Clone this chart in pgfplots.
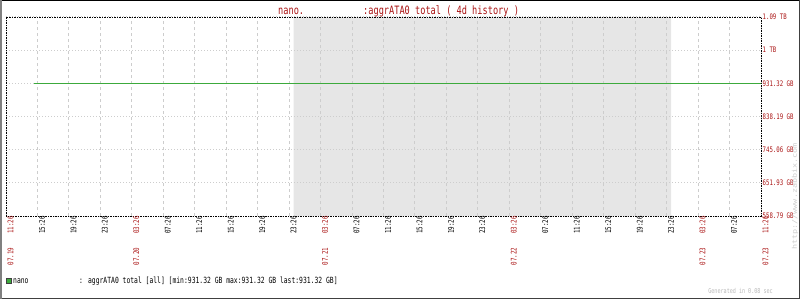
\documentclass[border=0pt]{standalone}
\usepackage{pgfplots}
\pgfplotsset{compat=1.18}
\usepackage{fontspec}
\setmainfont{DejaVu Sans Mono}
\newfontfamily\pixfont[FakeStretch=0.75]{DejaVu Sans Mono}
\newfontfamily\widefont[FakeStretch=1.3]{DejaVu Sans Mono}
\definecolor{zred}{RGB}{170,20,20}
\definecolor{zgreen}{RGB}{60,170,60}
\definecolor{zshade}{RGB}{230,230,230}
\definecolor{zgrid}{RGB}{205,205,205}
\newcommand{\rl}[2]{\textcolor{zred}{#1\hspace{14bp}#2}}
\begin{document}
\begin{tikzpicture}
\begin{axis}[
  set layers,
  scale only axis,
  width=755bp, height=199bp,
  at={(6bp,-216bp)}, anchor=south west,
  xmin=0, xmax=96,
  ymin=558.79, ymax=1117.58,
  xtick={0,4,...,96},
  xticklabels={\rl{07.19}{11:26},15:26,19:26,23:26,\rl{07.20}{03:26},07:26,11:26,15:26,19:26,23:26,\rl{07.21}{03:26},07:26,11:26,15:26,19:26,23:26,\rl{07.22}{03:26},07:26,11:26,15:26,19:26,23:26,\rl{07.23}{03:26},07:26,\rl{07.23}{11:26}},
  ytick={558.79,651.93,745.06,838.19,931.32,1024.45,1117.58},
  yticklabels={558.79 GB,651.93 GB,745.06 GB,838.19 GB,931.32 GB,1 TB,1.09 TB},
  yticklabel pos=right,
  major tick length=0pt,
  xticklabel style={rotate=90, anchor=east, inner sep=0pt, font=\pixfont\fontsize{7.8bp}{8bp}\selectfont, yshift=-4.5bp},
  yticklabel style={anchor=west, inner sep=0pt, xshift=1.5bp, text=zred, font=\pixfont\fontsize{7.6bp}{9bp}\selectfont},
  xmajorgrids, ymajorgrids,
  x grid style={zgrid, dash pattern=on 3bp off 3bp, line width=1bp},
  y grid style={zgrid, dash pattern=on 1bp off 2bp, line width=1bp},
  axis line style={black, line width=0.8bp, dash pattern=on 1.5bp off 1bp},
  legend style={at={(axis description cs:0,-0.327)}, anchor=west, draw=none, fill=none, inner sep=0pt, font=\pixfont\fontsize{8.5bp}{9bp}\selectfont, legend cell align=left},
  legend image code/.code={\fill[zgreen, draw=darkgray, line width=0.5bp] (0bp,-2.5bp) rectangle (4.5bp,2.5bp);},
]
\addplot[draw=none, fill=zshade, on layer=axis background, forget plot] coordinates {(36.57,558.79) (84.57,558.79) (84.57,1117.58) (36.57,1117.58) (36.57,558.79)};
\addplot[zgreen, line width=1.2bp, mark=none] coordinates {(3.56,931.32) (96,931.32)};
\addlegendentry{\makebox[66bp][l]{nano}: aggrATA0 total [all] [min:931.32 GB max:931.32 GB last:931.32 GB]}
\end{axis}
\node[anchor=base west, inner sep=0pt, text=zred, font=\pixfont\fontsize{11.5bp}{12bp}\selectfont] at (278bp,-14bp) {nano.};
\node[anchor=base west, inner sep=0pt, text=zred, font=\pixfont\fontsize{11.5bp}{12bp}\selectfont] at (363bp,-14bp) {:aggrATA0 total ( 4d history )};
\node[anchor=base east, inner sep=0pt, text=gray!55, font=\pixfont\fontsize{6.8bp}{7bp}\selectfont] at (773bp,-293bp) {Generated in 0.08 sec};
\node[anchor=south west, rotate=90, inner sep=0pt, text=gray!40, font=\widefont\fontsize{6.5bp}{7bp}\selectfont] at (798.5bp,-250bp) {http://www.zabbix.com};
\draw[black, line width=1bp] (0,-0.5bp) -- (800bp,-0.5bp);
\draw[darkgray, line width=1bp] (799.5bp,0) -- (799.5bp,-299bp);
\draw[darkgray, line width=1bp] (0,-298.5bp) -- (800bp,-298.5bp);
\draw[gray, line width=1.5bp] (0.75bp,0) -- (0.75bp,-299bp);
\pgfresetboundingbox
\useasboundingbox (0,0) rectangle (800bp,-299bp);
\end{tikzpicture}
\end{document}
